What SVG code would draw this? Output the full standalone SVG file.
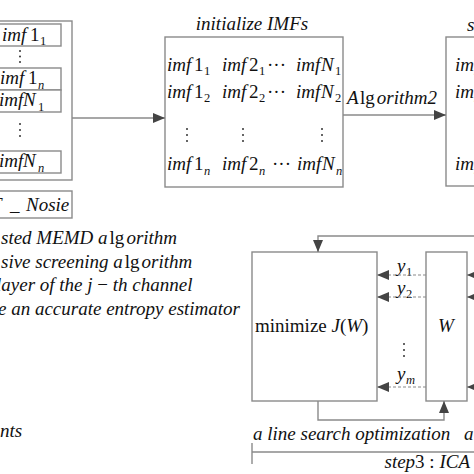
<svg xmlns="http://www.w3.org/2000/svg" width="474" height="474" viewBox="0 0 474 474">
<defs>
<style>
.t{font-family:"Liberation Serif","Times New Roman",serif;font-size:19px;fill:#111}
.i{font-style:italic}
.s{font-size:12.5px}
.box{fill:#fff;stroke:#8a8a8a;stroke-width:1.4}
.ln{fill:none;stroke:#8a8a8a;stroke-width:1.4}
.dl{fill:none;stroke:#8a8a8a;stroke-width:1.2;stroke-dasharray:3 2}
.dot{fill:#333}
</style>
<marker id="ah" markerWidth="12" markerHeight="10" refX="12" refY="5" orient="auto" markerUnits="userSpaceOnUse"><path d="M0,0 L12,5 L0,10 z" fill="#444"/></marker>
</defs>
<rect width="474" height="474" fill="#fff"/>

<g id="imf-list">
<rect class="box" x="-20" y="21" width="92" height="159"/>
<rect class="box" x="-20" y="24" width="81" height="22"/>
<rect class="box" x="-20" y="68" width="81" height="22"/>
<rect class="box" x="-20" y="90" width="81" height="22"/>
<rect class="box" x="-20" y="151" width="81" height="22"/>
<text class="t"><tspan class="i" x="2" y="41">imf</tspan><tspan x="30">1</tspan><tspan class="s" x="40" dy="4">1</tspan></text>
<text class="t"><tspan class="i" x="0" y="84">imf</tspan><tspan x="28">1</tspan><tspan class="s i" x="38" dy="5">n</tspan></text>
<text class="t"><tspan class="i" x="-1" y="106">imf</tspan><tspan class="i" x="23">N</tspan><tspan class="s" x="38" dy="5">1</tspan></text>
<text class="t"><tspan class="i" x="-1" y="167">imf</tspan><tspan class="i" x="23">N</tspan><tspan class="s i" x="38" dy="5">n</tspan></text>
<circle class="dot" cx="20" cy="51" r="1"/><circle class="dot" cx="20" cy="56.5" r="1"/><circle class="dot" cx="20" cy="62" r="1"/>
<circle class="dot" cx="20" cy="124" r="1"/><circle class="dot" cx="20" cy="130" r="1"/><circle class="dot" cx="20" cy="136" r="1"/>
</g>

<g id="noise">
<rect class="box" x="-20" y="191" width="92" height="27"/>
<text class="t i" y="211"><tspan x="-9">T</tspan><tspan x="10">_</tspan><tspan x="26">Nosie</tspan></text>
</g>

<g id="initialize">
<text class="t i" x="252" y="30" text-anchor="middle">initialize IMFs</text>
<rect class="box" x="165" y="37" width="178" height="150"/>
<text class="t"><tspan class="i" x="167" y="71">imf</tspan><tspan x="194">1</tspan><tspan class="s" x="204" dy="4">1</tspan></text>
<text class="t"><tspan class="i" x="222" y="71">imf</tspan><tspan x="249">2</tspan><tspan class="s" x="259" dy="4">1</tspan></text>
<text class="t" x="267" y="71">···</text>
<text class="t"><tspan class="i" x="296" y="71">imf</tspan><tspan class="i" x="321">N</tspan><tspan class="s" x="335" dy="4">1</tspan></text>

<text class="t"><tspan class="i" x="167" y="98">imf</tspan><tspan x="194">1</tspan><tspan class="s" x="204" dy="4">2</tspan></text>
<text class="t"><tspan class="i" x="222" y="98">imf</tspan><tspan x="249">2</tspan><tspan class="s" x="259" dy="4">2</tspan></text>
<text class="t" x="267" y="98">···</text>
<text class="t"><tspan class="i" x="296" y="98">imf</tspan><tspan class="i" x="321">N</tspan><tspan class="s" x="335" dy="4">2</tspan></text>

<circle class="dot" cx="187" cy="129" r="1"/><circle class="dot" cx="187" cy="135" r="1"/><circle class="dot" cx="187" cy="141" r="1"/>
<circle class="dot" cx="243" cy="129" r="1"/><circle class="dot" cx="243" cy="135" r="1"/><circle class="dot" cx="243" cy="141" r="1"/>
<circle class="dot" cx="322" cy="129" r="1"/><circle class="dot" cx="322" cy="135" r="1"/><circle class="dot" cx="322" cy="141" r="1"/>

<text class="t"><tspan class="i" x="167" y="170">imf</tspan><tspan x="194">1</tspan><tspan class="s i" x="204" dy="5">n</tspan></text>
<text class="t"><tspan class="i" x="222" y="170">imf</tspan><tspan x="249">2</tspan><tspan class="s i" x="259" dy="5">n</tspan></text>
<text class="t" x="272" y="170">···</text>
<text class="t"><tspan class="i" x="297" y="170">imf</tspan><tspan class="i" x="322">N</tspan><tspan class="s i" x="336" dy="5">n</tspan></text>
</g>

<g id="selected">
<text class="t i" x="467" y="31">s</text>
<rect class="box" x="446" y="37" width="60" height="149"/>
<text class="t i" x="455" y="71">imf</text>
<text class="t i" x="455" y="98">imf</text>
<text class="t i" x="455" y="170">imf</text>
</g>

<g id="legend">
<text class="t" y="244"><tspan class="i" x="1">sted MEMD a</tspan><tspan dx="2">lg</tspan><tspan class="i" dx="2">orithm</tspan></text>
<text class="t" y="268"><tspan class="i" x="1">sive screening a</tspan><tspan dx="2">lg</tspan><tspan class="i" dx="2">orithm</tspan></text>
<text class="t i" y="291"><tspan x="-4">layer of  the </tspan><tspan>j</tspan><tspan font-style="normal"> − </tspan><tspan>th channel</tspan></text>
<text class="t i" x="-2" y="315">e an accurate entropy estimator</text>
<text class="t i" x="0" y="437">nts</text>
</g>

<g id="minimize">
<rect class="box" x="252" y="252" width="125" height="149"/>
<text class="t" x="255" y="332" font-size="17.5">minimize <tspan class="i">J</tspan>(<tspan class="i">W</tspan>)</text>
</g>

<g id="W">
<rect class="box" x="426" y="252" width="41" height="149"/>
<text class="t i" x="446" y="332" text-anchor="middle">W</text>
</g>

<g id="outputs">
<text class="t"><tspan class="i" x="397" y="272">y</tspan><tspan class="s" x="406" dy="4">1</tspan></text>
<text class="t"><tspan class="i" x="397" y="294">y</tspan><tspan class="s" x="406" dy="4">2</tspan></text>
<text class="t"><tspan class="i" x="397" y="380">y</tspan><tspan class="s i" x="406" dy="4">m</tspan></text>
<circle class="dot" cx="404" cy="344" r="1"/><circle class="dot" cx="404" cy="350" r="1"/><circle class="dot" cx="404" cy="356" r="1"/>
</g>

<g id="captions">
<text class="t i" y="440"><tspan x="253">a line search optimization</tspan><tspan x="464">a</tspan></text>
<text class="t" x="470" y="468" text-anchor="end"><tspan class="i">step</tspan>3 : <tspan class="i">ICA</tspan></text>
</g>

<g id="connectors">
<line class="ln" x1="72" y1="118" x2="165" y2="118" marker-end="url(#ah)"/>
<text class="t" y="104"><tspan class="i" x="347">A</tspan><tspan x="360">lg</tspan><tspan class="i" dx="2">orithm2</tspan></text>
<line class="ln" x1="343" y1="115" x2="446" y2="115" marker-end="url(#ah)"/>
<polyline class="ln" points="480,236 318,236 318,252" marker-end="url(#ah)"/>
<line class="dl" x1="426" y1="275" x2="377" y2="275" marker-end="url(#ah)"/>
<line class="dl" x1="426" y1="297" x2="377" y2="297" marker-end="url(#ah)"/>
<line class="dl" x1="426" y1="387" x2="377" y2="387" marker-end="url(#ah)"/>
<line class="dl" x1="480" y1="275" x2="467" y2="275" marker-end="url(#ah)"/>
<line class="dl" x1="480" y1="297" x2="467" y2="297" marker-end="url(#ah)"/>
<line class="dl" x1="480" y1="387" x2="467" y2="387" marker-end="url(#ah)"/>
<polyline class="ln" points="318,401 318,420 444,420 444,401" marker-end="url(#ah)"/>
<line class="ln" x1="252" y1="452" x2="480" y2="452"/>
<line class="ln" x1="252" y1="443" x2="252" y2="464"/>
</g>
</svg>
